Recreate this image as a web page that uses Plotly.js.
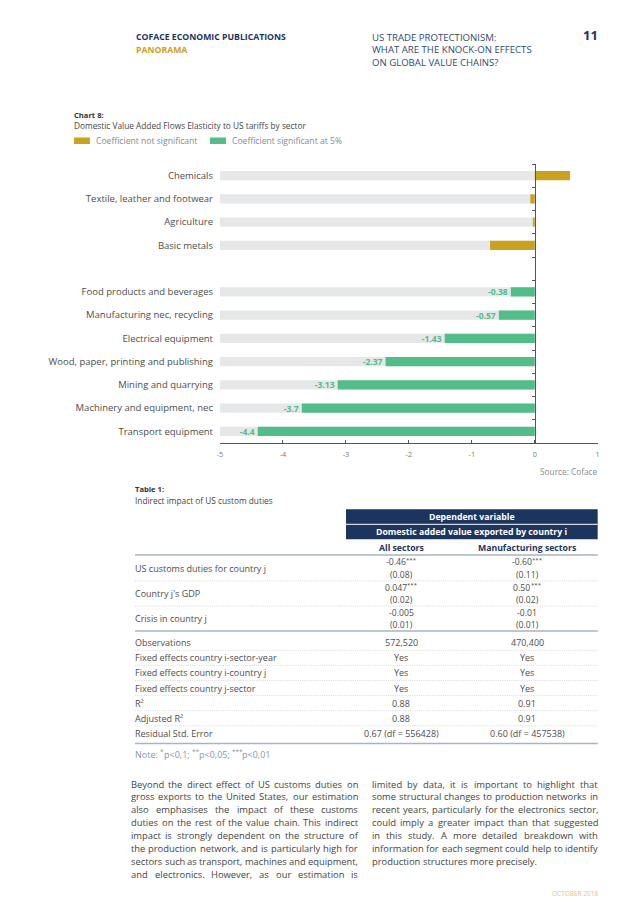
<!DOCTYPE html>
<html>
<head>
<meta charset="utf-8">
<script src="https://cdn.plot.ly/plotly-3.0.1.min.js"></script>
<style>html,body{margin:0;padding:0;background:#fff;}#chart{width:638px;height:902px;}</style>
</head>
<body>
<div id="chart"></div>
<script>
// ---------- DATA ----------
const notSigSectors = ["Chemicals", "Textile, leather and footwear", "Agriculture", "Basic metals"];
const notSigValues = [0.56, -0.07, -0.03, -0.71];
const sigSectors = ["Food products and beverages", "Manufacturing nec, recycling", "Electrical equipment",
  "Wood, paper, printing and publishing", "Mining and quarrying", "Machinery and equipment, nec", "Transport equipment"];
const sigValues = [-0.38, -0.57, -1.43, -2.37, -3.13, -3.7, -4.4];
const gapCategory = " ";
const xTicks = [-5, -4, -3, -2, -1, 0, 1];
const legendLabels = ["Coefficient not significant", "Coefficient significant at 5%"];

const headerLeft = ["COFACE ECONOMIC PUBLICATIONS", "PANORAMA"];
const headerRight = ["US TRADE PROTECTIONISM:", "WHAT ARE THE KNOCK-ON EFFECTS", "ON GLOBAL VALUE CHAINS?"];
const pageNumber = "11";
const chartTitle = ["Chart 8:", "Domestic Value Added Flows Elasticity to US tariffs by sector"];
const sourceText = "Source: Coface";

const tableTitle = ["Table 1:", "Indirect impact of US custom duties"];
const tableHeader = ["Dependent variable", "Domestic added value exported by country i"];
const tableColumns = ["All sectors", "Manufacturing sectors"];
const coefLabels = ["US customs duties for country j", "Country j's GDP", "Crisis in country j"];
const coefAll = ["-0.46", "0.047", "-0.005"];
const starsAll = ["***", "***", ""];
const seAll = ["(0.08)", "(0.02)", "(0.01)"];
const coefManuf = ["-0.60", "0.50", "-0.01"];
const starsManuf = ["***", "***", ""];
const seManuf = ["(0.11)", "(0.02)", "(0.01)"];
const statLabels = ["Observations", "Fixed effects country i-sector-year", "Fixed effects country i-country j",
  "Fixed effects country j-sector", "R²", "Adjusted R²", "Residual Std. Error"];
const statAll = ["572,520", "Yes", "Yes", "Yes", "0.88", "0.88", "0.67 (df = 556428)"];
const statManuf = ["470,400", "Yes", "Yes", "Yes", "0.91", "0.91", "0.60 (df = 457538)"];
const noteParts = ["Note: ", "*", "p<0,1; ", "**", "p<0,05; ", "***", "p<0,01"];
const noteSup = [false, true, false, true, false, true, false];

const paraLeft = [
  "Beyond the direct effect of US customs duties on",
  "gross exports to the United States, our estimation",
  "also emphasises the impact of these customs",
  "duties on the rest of the value chain. This indirect",
  "impact is strongly dependent on the structure of",
  "the production network, and is particularly high for",
  "sectors such as transport, machines and equipment,",
  "and electronics. However, as our estimation is"];
const paraRight = [
  "limited by data, it is important to highlight that",
  "some structural changes to production networks in",
  "recent years, particularly for the electronics sector,",
  "could imply a greater impact than that suggested",
  "in this study. A more detailed breakdown with",
  "information for each segment could help to identify",
  "production structures more precisely."];
const footer = "OCTOBER 2018";

// ---------- STYLE ----------
const W = 638, H = 902;
const FAM = "Open Sans";
const FONT = "Open Sans, Lato, sans-serif";
const NAVY = "#1c355e", GOLD = "#c9a21f", GREEN = "#52bd88", GREYBAR = "#e6e7e8";
const TXT = "#4d4d4d";
const X0 = 220, X1 = 597.7, Y0 = 164, Y1 = 443;
const xMin = xTicks[0], xMax = xTicks[xTicks.length - 1];
const categories = notSigSectors.concat([gapCategory], sigSectors);
const nCat = categories.length;
const barW = 0.39;

const px = x => x / W;
const py = y => 1 - y / H;
const ann = [];
const shapes = [];
const ctx = document.createElement("canvas").getContext("2d");
function measure(t, size, bold) {
  ctx.font = (bold ? "700 " : "400 ") + size + "px '" + FAM + "'";
  return ctx.measureText(t).width;
}
const esc = t => t.replace(/</g, "&lt;").replace(/>/g, "&gt;");
function text(t, x, y, size, color, opts) {
  opts = opts || {};
  ann.push({
    text: esc(t), x: px(x), y: py(y), xref: "paper", yref: "paper", showarrow: false,
    xanchor: opts.xanchor || "left", yanchor: "middle", align: opts.xanchor === "center" ? "center" : "left",
    borderpad: 0, borderwidth: 0,
    font: {family: FONT, size: size, color: color, weight: opts.bold ? 700 : 400}
  });
}
// sequence of segments, some raised as superscripts
function seq(parts, sups, x, y, size, color, anchor) {
  const ws = parts.map((p, i) => measure(p, sups[i] ? size * 0.7 : size, false));
  const total = ws.reduce((a, b) => a + b, 0);
  let cx = anchor === "center" ? x - total / 2 : x;
  parts.forEach((p, i) => {
    if (p) text(p, cx, sups[i] ? y - size * 0.3 : y, sups[i] ? size * 0.7 : size, color);
    cx += ws[i];
  });
}
function justify(line, xl, xr, y, size, color, last) {
  const words = line.split(" ");
  let ws = words.map(w => measure(w, size, false));
  let sum = ws.reduce((a, b) => a + b, 0);
  let space = measure(" ", size, false);
  const natural = sum + space * (words.length - 1);
  if (natural > xr - xl) {
    size = size * (xr - xl) / natural;
    ws = words.map(w => measure(w, size, false));
    sum = ws.reduce((a, b) => a + b, 0);
    space = measure(" ", size, false);
  }
  const gap = last ? space : (xr - xl - sum) / (words.length - 1);
  let cx = xl;
  words.forEach((w, i) => { text(w, cx, y, size, color); cx += ws[i] + gap; });
}
function rect(x0, y0, x1, y1, color) {
  shapes.push({type: "rect", xref: "paper", yref: "paper", x0: px(x0), x1: px(x1), y0: py(y1), y1: py(y0),
    fillcolor: color, line: {width: 0}, layer: "above"});
}
function hline(x0, x1, y, color, width, dash) {
  shapes.push({type: "line", xref: "paper", yref: "paper", x0: px(x0), x1: px(x1), y0: py(y), y1: py(y),
    line: {color: color, width: width, dash: dash || "solid"}, layer: "above"});
}

// ---------- HEADER ----------
text(headerLeft[0], 136, 37, 8.7, NAVY, {bold: true});
text(headerLeft[1], 136, 49.5, 8.7, GOLD, {bold: true});
headerRight.forEach((t, i) => text(t, 372, 37 + i * 12.7, 9.6, "#2f4a70"));
text(pageNumber, 598, 35.5, 13, NAVY, {bold: true, xanchor: "right"});

// ---------- CHART TITLE + LEGEND ----------
text(chartTitle[0], 74, 114.6, 7.6, "#333", {bold: true});
text(chartTitle[1], 74, 126, 8.3, "#444");
rect(74, 137.5, 90, 144, GOLD);
text(legendLabels[0], 96, 141, 8.6, "#8a8a8a");
rect(210, 137.5, 226, 144, GREEN);
text(legendLabels[1], 232, 141, 8.6, "#8a8a8a");
text(sourceText, 598, 471, 8.3, "#8a8a8a", {xanchor: "right"});

// ---------- TABLE ----------
const TL = 135, TR = 597.7, C1 = 401, C2 = 527;
const TS = 9, VS = 8.7;
text(tableTitle[0], TL, 488.6, 7.6, "#333", {bold: true});
text(tableTitle[1], TL, 500, 8.3, "#444");
rect(346, 509.3, TR, 539.3, NAVY);
hline(346, TR, 524.3, "#ffffff", 1);
text(tableHeader[0], (346 + TR) / 2, 517, 8.7, "#ffffff", {bold: true, xanchor: "center"});
text(tableHeader[1], (346 + TR) / 2, 532, 8.7, "#ffffff", {bold: true, xanchor: "center"});
text(tableColumns[0], C1, 547.5, 8.7, NAVY, {bold: true, xanchor: "center"});
text(tableColumns[1], C2, 547.5, 8.7, NAVY, {bold: true, xanchor: "center"});
hline(TL, TR, 555, "#a7b4c6", 1.5);
coefLabels.forEach((lab, i) => {
  const yc = 568.5 + i * 25.2;
  text(lab, TL, yc, TS, TXT);
  seq([coefAll[i], starsAll[i]], [false, true], C1, yc - 6.1, VS, TXT, "center");
  text(seAll[i], C1, yc + 6.0, VS, TXT, {xanchor: "center"});
  seq([coefManuf[i], starsManuf[i]], [false, true], C2, yc - 6.1, VS, TXT, "center");
  text(seManuf[i], C2, yc + 6.0, VS, TXT, {xanchor: "center"});
  if (i < coefLabels.length - 1) hline(TL, TR, yc + 12.4, "#cfcfcf", 0.8, "1px,1.2px");
});
hline(TL, TR, 631, "#a7b4c6", 1.5);
statLabels.forEach((lab, i) => {
  const yc = 642.7 + i * 15.1;
  text(lab, TL, yc, TS, TXT);
  text(statAll[i], C1, yc, TS, TXT, {xanchor: "center"});
  text(statManuf[i], C2, yc, TS, TXT, {xanchor: "center"});
  if (i < statLabels.length - 1) hline(TL, TR, yc + 7.6, "#cfcfcf", 0.8, "1px,1.2px");
});
hline(TL, TR, 743.5, "#a7b4c6", 1.5);
seq(noteParts, noteSup, TL, 754, 9, "#8795a8", "left");

// ---------- PARAGRAPH ----------
const PS = 9.4;
paraLeft.forEach((t, i) => justify(t, 131, 358, 784 + i * 12.95, PS, "#444", false));
paraRight.forEach((t, i) => justify(t, 372, 598, 784 + i * 12.95, PS, "#444", i === paraRight.length - 1));
text(footer, 598, 893, 6.5, "#dcc785", {xanchor: "right"});

// ---------- TRACES ----------
const zeroPos = px(X0 + (0 - xMin) / (xMax - xMin) * (X1 - X0));
const traces = [
  {type: "bar", orientation: "h", y: categories, x: categories.map(c => c.trim() ? xMin : null),
   marker: {color: GREYBAR}, width: barW, hoverinfo: "skip", showlegend: false},
  {type: "bar", orientation: "h", name: legendLabels[0], y: notSigSectors, x: notSigValues,
   marker: {color: GOLD}, width: barW, showlegend: false},
  {type: "bar", orientation: "h", name: legendLabels[1], y: sigSectors, x: sigValues,
   marker: {color: GREEN}, width: barW, showlegend: false,
   text: sigValues.map(v => String(v)), textposition: "outside", constraintext: "none", cliponaxis: false,
   textfont: {family: FONT, size: 8.5, color: GREEN, weight: 700}},
  {type: "scatter", mode: "markers", x: [], y: [], xaxis: "x", yaxis: "y2", showlegend: false, hoverinfo: "skip"}
];

const layout = {
  width: W, height: H,
  margin: {l: 0, r: 0, t: 0, b: 0},
  paper_bgcolor: "#ffffff", plot_bgcolor: "rgba(0,0,0,0)",
  barmode: "overlay",
  showlegend: false,
  font: {family: FONT},
  xaxis: {
    domain: [px(X0), px(X1)], range: [xMin, xMax], tickvals: xTicks, ticktext: xTicks.map(String),
    ticks: "inside", ticklen: 3, tickcolor: "#555", showline: true, linecolor: "#555", linewidth: 1,
    ticklabelstandoff: 4,
    showgrid: false, zeroline: false, tickfont: {family: FONT, size: 7.3, color: "#777"}, fixedrange: true
  },
  yaxis: {
    domain: [py(Y1), py(Y0)], type: "category", categoryorder: "array", categoryarray: categories,
    range: [nCat - 0.5, -0.5], showline: false, ticks: "", showgrid: false, zeroline: false,
    ticklabelstandoff: 6,
    tickfont: {family: FONT, size: 9.5, color: TXT}, fixedrange: true
  },
  yaxis2: {
    overlaying: "y", anchor: "free", position: zeroPos, side: "left", type: "linear",
    range: [nCat - 0.5, -0.5], tickvals: categories.map((c, i) => i - 0.5).concat([nCat - 0.5]),
    ticks: "outside", ticklen: 3, tickcolor: "#555", showline: true, linecolor: "#555", linewidth: 1,
    showticklabels: false, showgrid: false, zeroline: false, fixedrange: true
  },
  annotations: ann,
  shapes: shapes
};

Plotly.newPlot("chart", traces, layout, {displayModeBar: false, staticPlot: true});
</script>
</body>
</html>
